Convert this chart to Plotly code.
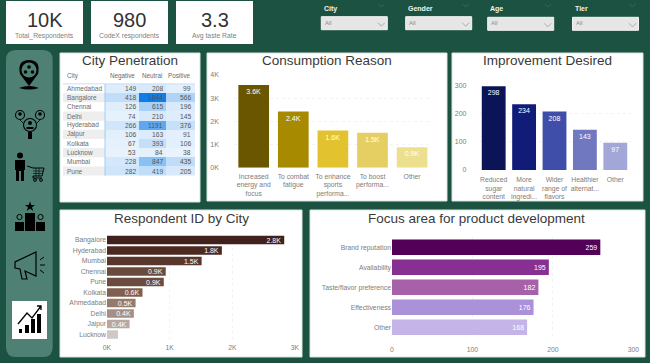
import plotly.graph_objects as go

# ---------- data ----------
kpi_values = ["10K", "980", "3.3"]
kpi_labels = ["Total_Respondents", "CodeX respondents", "Avg taste Rate"]
slicer_titles = ["City", "Gender", "Age", "Tier"]
slicer_value = "All"

table_cities = ["Ahmedabad", "Bangalore", "Chennai", "Delhi", "Hyderabad", "Jaipur", "Kolkata", "Lucknow", "Mumbai", "Pune"]
table_columns = ["Negative", "Neutral", "Positive"]
negative = [149, 418, 126, 74, 266, 106, 67, 53, 228, 282]
neutral = [208, 1844, 615, 210, 1191, 163, 393, 84, 847, 419]
positive = [99, 566, 196, 145, 376, 91, 106, 38, 435, 205]

reason_labels = ["Increased<br>energy and<br>focus", "To combat<br>fatigue", "To enhance<br>sports<br>performa...", "To boost<br>performa...", "Other"]
reason_values = [3570, 2420, 1600, 1510, 880]
reason_text = ["3.6K", "2.4K", "1.6K", "1.5K", "0.9K"]

improve_labels = ["Reduced<br>sugar<br>content", "More<br>natural<br>ingredi...", "Wider<br>range of<br>flavors", "Healthier<br>alternat...", "Other"]
improve_values = [298, 234, 208, 143, 97]

city_labels = ["Bangalore", "Hyderabad", "Mumbai", "Chennai", "Pune", "Kolkata", "Ahmedabad", "Delhi", "Jaipur", "Lucknow"]
city_values = [2828, 1833, 1510, 937, 906, 566, 456, 429, 360, 175]
city_text = ["2.8K", "1.8K", "1.5K", "0.9K", "0.9K", "0.6K", "0.5K", "0.4K", "0.4K", ""]

focus_labels = ["Brand reputation", "Availability", "Taste/flavor preference", "Effectiveness", "Other"]
focus_values = [259, 195, 182, 176, 168]

# ---------- styles ----------
W, H = 650, 363
BG = "#1c5241"
SIDE = "#4e8074"
FONT = "Liberation Sans"
TICK = "#7d7d7d"
DARK = "#3a3a3a"
reason_colors = ["#6b5600", "#a88a00", "#e3c22f", "#e6cf62", "#ece08f"]
improve_colors = ["#0b1456", "#101c78", "#3f4ea8", "#7079c0", "#a2a7d7"]
city_colors = ["#40211b", "#4c2a22", "#5a372c", "#6b4a3e", "#6d4c40", "#7f5f50", "#967b6d", "#a58f84", "#b9a8a0", "#cfc8c5"]
focus_colors = ["#520058", "#883091", "#a661a8", "#ab90da", "#c4b4e8"]
panels = [(60, 53, 200, 202), (207, 53, 447, 201), (452, 53, 643, 201), (60, 210, 302, 357), (310, 210, 645, 357)]

fig = go.Figure()
shapes, notes = [], []


def rect(x0, y0, x1, y1, fill, line=None, layer="below"):
    shapes.append(dict(type="rect", xref="x", yref="y", x0=x0, y0=y0, x1=x1, y1=y1, fillcolor=fill,
                       line=dict(color=line or fill, width=1 if line else 0), layer=layer))


def path(d, fill="#000000", line=None, width=1):
    shapes.append(dict(type="path", xref="x", yref="y", path=d, fillcolor=fill,
                       line=dict(color=line or "rgba(0,0,0,0)", width=width), layer="below"))


def circle(cx, cy, r, fill="#000000", line=None, width=1):
    shapes.append(dict(type="circle", xref="x", yref="y", x0=cx - r, x1=cx + r, y0=cy - r, y1=cy + r, fillcolor=fill,
                       line=dict(color=line or "rgba(0,0,0,0)", width=width), layer="below"))


def note(x, y, text, size=7, color=TICK, anchor="center", bold=False, xref="x", yref="y"):
    notes.append(dict(x=x, y=y, xref=xref, yref=yref, text=f"<b>{text}</b>" if bold else text, showarrow=False,
                      xanchor=anchor, yanchor="middle", font=dict(family=FONT, size=size, color=color), borderpad=0))


def dom_x(a, b):
    return [a / W, b / W]


def dom_y(top, bottom):
    return [1 - bottom / H, 1 - top / H]


# pixel overlay subplot (drawn first)
fig.add_trace(go.Scatter(x=[None], y=[None], xaxis="x", yaxis="y", showlegend=False, hoverinfo="skip"))
layout = dict(
    xaxis=dict(domain=[0, 1], range=[0, W], visible=False, fixedrange=True),
    yaxis=dict(domain=[0, 1], range=[H, 0], visible=False, fixedrange=True),
)

# KPI cards
for i, (v, lab) in enumerate(zip(kpi_values, kpi_labels)):
    x0 = 6 + i * 85
    rect(x0, 1, x0 + 77, 44, "#ffffff")
    note(x0 + 38.5, 20, v, size=20, color="#333333")
    note(x0 + 38.5, 36, lab, size=6.8, color="#808080")

# slicers
for title, tx, bx0, by in zip(slicer_titles, [323, 407, 489, 574], [321.3, 405.7, 487.7, 572.5], [16.7, 16.7, 17.3, 17.3]):
    note(tx, 8.5, title, size=7, color="#f2f2f2", anchor="left", bold=True)
    rect(bx0, by, bx0 + 66, by + 13, "#e6e6e6", line="#f4f4f4")
    note(bx0 + 2.5, by + 6, slicer_value, size=6, color="#8c8c8c", anchor="left")
    cx = bx0 + 60
    path(f"M{cx-3.5},{by+6} L{cx},{by+9.5} L{cx+3.5},{by+6}", fill="rgba(0,0,0,0)", line="#9a9a9a", width=0.8)
    path(f"M{cx-3},{4} L{cx},{7} L{cx+3},{4}", fill="rgba(0,0,0,0)", line="#3d6d5e", width=0.8)

# white panels
for x0, y0, x1, y1 in panels:
    rect(x0, y0, x1, y1, "#ffffff", line="#d5e3de")

# titles
for cx, cy, t, s in [(130.3, 60.5, "City Penetration", 13.5), (326.5, 60.5, "Consumption Reason", 13.5),
                     (547, 60.5, "Improvement Desired", 13.5), (181, 218, "Respondent ID by City", 13.5),
                     (476, 218, "Focus area for product development", 13.5)]:
    note(cx, cy, t, size=s, color=DARK)

# sidebar + icons
shapes.append(dict(type="path", xref="x", yref="y", layer="below", fillcolor=SIDE, line=dict(width=0),
                   path="M16,50 L43,50 Q52.7,50 52.7,60 L52.7,347 Q52.7,357 43,357 L16,357 Q6,357 6,347 L6,60 Q6,50 16,50 Z"))
# pin
path("M29,86 L20,74 Q17,60 29,60 Q41,60 38,74 Z")
circle(29, 70, 7.5, fill=SIDE)
circle(29, 67, 1.8)
circle(25.5, 72, 1.8)
circle(32.5, 72, 1.8)
path("M19,88 Q29,84 39,88 Q29,91 19,88 Z")
# network
path("M20,120 L24,124 M40,120 L36,124", fill="rgba(0,0,0,0)", line="#000000", width=0.8)
for cx, cy, r in [(20, 115, 4.5), (40, 115, 4.5), (30, 125, 6.5)]:
    circle(cx, cy, r, fill=SIDE, line="#000000", width=1.1)
circle(20, 114, 1.8)
circle(40, 114, 1.8)
circle(30, 123, 2)
path("M26.5,127 L33.5,127 L33.5,129 L26.5,129 Z")
path("M28,132 L32,132 L32,139 L28,139 Z")
# person + cart
circle(20, 155.5, 3)
path("M15,160 L25,160 L25,170 L24,170 L24,181 L21,181 L21,171 L19,171 L19,181 L16,181 L16,170 L15,170 Z")
path("M27,166 L33,168 L44,168 L42,176 L33,176 L33,178 L42,178", fill="rgba(0,0,0,0)", line="#000000", width=1)
path("M33,171 L43,171 M33,173.5 L42.5,173.5 M36,168 L36,176 M39,168 L39,176", fill="rgba(0,0,0,0)", line="#000000", width=0.6)
circle(35, 180, 1.4, fill=SIDE, line="#000000")
circle(41, 180, 1.4, fill=SIDE, line="#000000")
# podium
rect(15, 222, 24, 231, "#000000")
rect(25, 213, 35, 231, "#000000")
rect(36, 222, 45, 231, "#000000")
path("M30,201.5 L31.3,205 L35,205 L32,207.2 L33.2,211 L30,208.6 L26.8,211 L28,207.2 L25,205 L28.7,205 Z")
circle(19.5, 217, 2.6, fill=SIDE, line="#000000")
circle(40.5, 217, 2.6, fill=SIDE, line="#000000")
# megaphone
path("M15,262 L15,268 L20,269 L22,279 L27,279 L25,271 L36,276 L36,252 Z", fill="rgba(0,0,0,0)", line="#000000", width=1.2)
path("M40,260 L44,257 M40,265 L45,265 M40,270 L44,273", fill="rgba(0,0,0,0)", line="#000000", width=1)
# active chart button
rect(12, 301, 47, 339, "#ffffff")
rect(19, 329, 22, 333, "#000000")
rect(25, 325, 29, 333, "#000000")
rect(31, 319, 35, 333, "#000000")
rect(37, 314, 41, 333, "#000000")
path("M18,324 L27,313 L32,318 L41,306 M37,306 L41,306 L41,310", fill="rgba(0,0,0,0)", line="#000000", width=1.3)

# ---------- table (heat-map cells) ----------
col_edges = [0, 34, 61, 90]
z = [list(r) for r in zip(negative, neutral, positive)]
fig.add_trace(go.Heatmap(z=z, x=col_edges, y=list(range(len(table_cities) + 1)), xaxis="x2", yaxis="y2", showscale=False,
                         colorscale=[[0, "#e9f3fd"], [0.25, "#b9d9f8"], [0.5, "#7db9f4"], [1, "#0f7de6"]],
                         xgap=0, ygap=0, hoverinfo="skip"))
layout["xaxis2"] = dict(domain=dom_x(105, 195), range=[0, 90], visible=False, anchor="y2", fixedrange=True)
layout["yaxis2"] = dict(domain=dom_y(84, 175.6), range=[10, 0], visible=False, anchor="x2", fixedrange=True)
row_h = (175.6 - 84) / len(table_cities)
for i, city in enumerate(table_cities):
    yc = 84 + row_h * (i + 0.5)
    if i % 2:
        rect(63, yc - row_h / 2, 105, yc + row_h / 2, "#eeeeee")
    note(65.5, yc, city, size=6.5, color="#6a6a6a", anchor="left")
    for j in range(3):
        note(col_edges[j + 1] - (3 if j == 2 else 2), i + 0.5, str(z[i][j]), size=6.7, color="#555555", anchor="right", xref="x2", yref="y2")
note(65.5, 75.5, "City", size=6.3, color="#6a6a6a", anchor="left")
for j, c in enumerate(table_columns):
    note(col_edges[j + 1] - 3, 75.5, c, size=6.3, color="#6a6a6a", anchor="right", xref="x2")
    notes[-1]["yref"] = "y"
rect(63, 83.5, 195, 84.2, "#b5d8f7", layer="above")
rect(104.6, 84, 105.4, 175.6, "#8fc3f2", layer="above")


def grid():
    return dict(showgrid=True, gridcolor="#f3f3f3", griddash="dot", gridwidth=1)


def column_chart(n, labels, values, text, colors, rng, dtick, fmt, box, stand_y, stand_x, gapw):
    x0, top, x1, bottom = box
    fig.add_trace(go.Bar(x=labels, y=values, text=text, textposition="inside", insidetextanchor="end", textangle=0,
                         constraintext="none", textfont=dict(family=FONT, size=7, color="#ffffff"),
                         marker=dict(color=colors, line=dict(width=0)), width=gapw, xaxis=f"x{n}", yaxis=f"y{n}",
                         showlegend=False, hoverinfo="skip"))
    layout[f"xaxis{n}"] = dict(domain=dom_x(x0, x1), anchor=f"y{n}", type="category", showgrid=False, zeroline=False, showline=False,
                               tickfont=dict(family=FONT, size=6.8, color=TICK), ticklabelstandoff=stand_x, tickangle=0,
                               automargin=False, fixedrange=True)
    layout[f"yaxis{n}"] = dict(domain=dom_y(top, bottom), anchor=f"x{n}", range=rng, dtick=dtick, tickformat=fmt[0], ticksuffix=fmt[1],
                               zeroline=False, showline=False, tickfont=dict(family=FONT, size=7, color=TICK),
                               ticklabelstandoff=stand_y, automargin=False, fixedrange=True, **grid())


def row_chart(n, labels, values, text, colors, rng, dtick, fmt, box, stand_x, gapw):
    x0, top, x1, bottom = box
    fig.add_trace(go.Bar(y=labels, x=values, orientation="h", text=text, textposition="inside", insidetextanchor="end", textangle=0,
                         constraintext="none", textfont=dict(family=FONT, size=7, color="#ffffff"),
                         marker=dict(color=colors, line=dict(width=0)), width=gapw, xaxis=f"x{n}", yaxis=f"y{n}",
                         showlegend=False, hoverinfo="skip"))
    layout[f"xaxis{n}"] = dict(domain=dom_x(x0, x1), anchor=f"y{n}", range=rng, dtick=dtick, tickformat=fmt[0], ticksuffix=fmt[1],
                               zeroline=False, showline=False, tickfont=dict(family=FONT, size=6.8, color=TICK),
                               ticklabelstandoff=stand_x, automargin=False, fixedrange=True, **grid())
    layout[f"yaxis{n}"] = dict(domain=dom_y(top, bottom), anchor=f"x{n}", type="category", autorange="reversed", showgrid=False,
                               zeroline=False, showline=False, tickfont=dict(family=FONT, size=6.8, color=TICK),
                               automargin=False, fixedrange=True)


column_chart(3, reason_labels, [v / 1000 for v in reason_values], reason_text, reason_colors, [0, 4], 1, ("d", "K"),
             (233.9, 75, 431.9, 167.7), 14, 3, 0.775)
column_chart(4, improve_labels, improve_values, [str(v) for v in improve_values], improve_colors, [0, 300], 100, ("d", ""),
             (478.5, 85.7, 630.5, 170), 11, 4, 0.784)
row_chart(5, city_labels, [v / 1000 for v in city_values], city_text, city_colors, [0, 3], 1, ("d", "K"),
          (107, 234.75, 295, 339.75), 2, 0.79)
row_chart(6, focus_labels, focus_values, [str(v) for v in focus_values], focus_colors, [0, 300], 100, ("d", ""),
          (392, 237.3, 633.3, 337.3), 7, 0.775)

fig.update_layout(width=W, height=H, margin=dict(l=0, r=0, t=0, b=0), paper_bgcolor=BG, plot_bgcolor="rgba(0,0,0,0)",
                  showlegend=False, shapes=shapes, annotations=notes, font=dict(family=FONT), **layout)
fig.write_html("out.html", config=dict(displayModeBar=False),
               post_script="document.body.style.margin='0';document.body.style.overflow='hidden';document.body.style.background='" + BG + "';")
